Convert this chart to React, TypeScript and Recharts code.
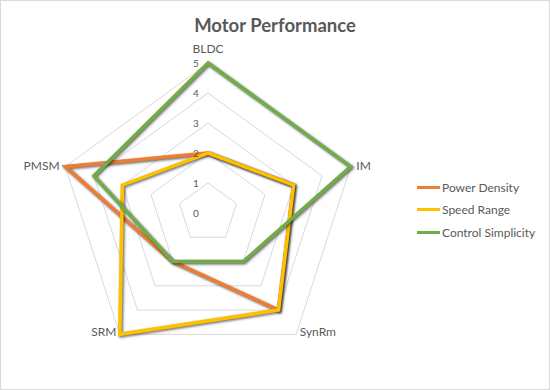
import React from "react";
import {
  RadarChart,
  Radar,
  PolarGrid,
  PolarAngleAxis,
  PolarRadiusAxis,
  Legend,
} from "recharts";

const motors = ["BLDC", "IM", "SynRm", "SRM", "PMSM"];
const powerDensity = [2, 3, 4, 2, 5];
const speedRange = [2, 3, 4, 5, 3];
const controlSimplicity = [5, 5, 2, 2, 4];
const radiusTicks = [0, 1, 2, 3, 4, 5];

const seriesInfo = [
  { key: "power", name: "Power Density", color: "#ED7D31" },
  { key: "speed", name: "Speed Range", color: "#FFC000" },
  { key: "control", name: "Control Simplicity", color: "#70AD47" },
];

const data = motors.map((motor, i) => ({
  motor,
  power: powerDensity[i],
  speed: speedRange[i],
  control: controlSimplicity[i],
}));

const FONT = "Lato, 'Open Sans', sans-serif";
const TEXT = "#595959";
const CX = 208;
const CY = 213;

const AngleTick = (props: any) => {
  const { x, y, payload, textAnchor } = props;
  let dy = 5;
  if (y < CY - 100) dy = -4;
  else if (y > CY + 50) dy = -3;
  return (
    <text
      x={x}
      y={y}
      dy={dy}
      textAnchor={textAnchor}
      fill={TEXT}
      fontSize={12}
      fontFamily={FONT}
    >
      {payload.value}
    </text>
  );
};

const RadiusTick = (props: any) => {
  const { x, y, payload } = props;
  return (
    <text
      x={x - 12}
      y={y}
      dy={4}
      textAnchor="middle"
      fill={TEXT}
      fontSize={10}
      fontFamily={FONT}
    >
      {payload.value}
    </text>
  );
};

const renderLegend = () => (
  <div style={{ fontFamily: FONT, fontSize: 12, color: TEXT }}>
    {seriesInfo.map((s) => (
      <div
        key={s.key}
        style={{ display: "flex", alignItems: "center", height: 22.5 }}
      >
        <span
          style={{
            display: "inline-block",
            width: 23,
            height: 3,
            background: s.color,
            marginRight: 2,
          }}
        />
        <span>{s.name}</span>
      </div>
    ))}
  </div>
);

export default function App() {
  return (
    <div
      style={{
        position: "absolute",
        left: 0,
        top: 0,
        width: 548,
        height: 388,
        border: "1px solid #d9d9d9",
        background: "#fff",
        overflow: "hidden",
      }}
    >
      <style>{`.shadowed { filter: drop-shadow(1px 1px 1px rgba(0,0,0,0.35)); }`}</style>
      <div
        style={{
          position: "absolute",
          left: 0,
          width: 548,
          top: 13,
          textAlign: "center",
          fontFamily: FONT,
          fontWeight: 700,
          fontSize: 18.5,
          color: TEXT,
        }}
      >
        Motor Performance
      </div>
      <RadarChart
        width={548}
        height={388}
        data={data}
        cx={CX - 1}
        cy={CY - 1}
        outerRadius={150}
        style={{ position: "absolute", left: 0, top: 0 }}
      >
        <PolarGrid
          gridType="polygon"
          radialLines={false}
          stroke="#d9d9d9"
          strokeWidth={1}
        />
        <PolarAngleAxis
          dataKey="motor"
          tick={<AngleTick />}
          tickSize={6}
          axisLine={false}
          tickLine={false}
        />
        <PolarRadiusAxis
          angle={90}
          domain={[0, 5]}
          ticks={radiusTicks as any}
          tickCount={6}
          axisLine={false}
          tick={<RadiusTick />}
        />
        {seriesInfo.map((s) => (
          <Radar
            key={s.key}
            name={s.name}
            dataKey={s.key}
            stroke={s.color}
            strokeWidth={3.5}
            fill="none"
            fillOpacity={0}
            dot={false}
            className="shadowed"
            isAnimationActive={false}
          />
        ))}
        <Legend
          layout="vertical"
          content={renderLegend}
          wrapperStyle={{ left: 416, top: 175, width: 130 }}
        />
      </RadarChart>
    </div>
  );
}
